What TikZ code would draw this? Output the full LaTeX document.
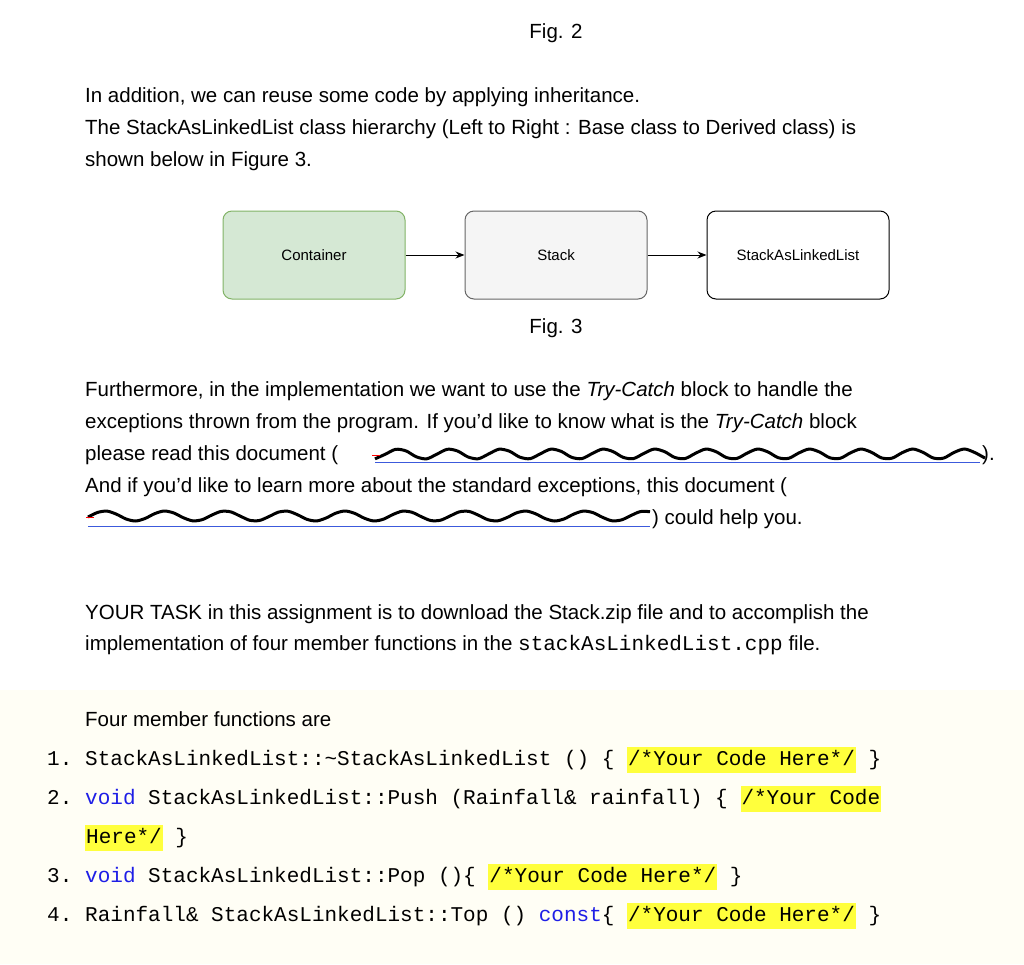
\documentclass[tikz,border=0pt]{standalone}
\usepackage{fontspec}
\setmainfont{Liberation Sans}
\setmonofont{Liberation Mono}
\usetikzlibrary{arrows.meta}
\definecolor{hl}{RGB}{255,255,60}
\definecolor{kw}{RGB}{30,30,230}
\definecolor{lnk}{RGB}{60,90,220}
\newcommand{\hlt}[1]{{\setlength{\fboxsep}{1pt}\colorbox{hl}{\strut #1}}}
\begin{document}
\begin{tikzpicture}[x=1pt,y=-1pt,
  txt/.style={anchor=base west,inner sep=0pt,font=\fontsize{20.5}{24}\selectfont},
  figcap/.style={anchor=base,inner sep=0pt,font=\fontsize{20.5}{24}\selectfont},
  code/.style={anchor=base west,inner sep=0pt,font=\fontsize{21}{24}\ttfamily},
  box/.style={draw,rounded corners=9pt,line width=1pt,minimum width=182pt,minimum height=88pt,font=\fontsize{15}{18}\selectfont},
  arr/.style={-{Stealth[length=9pt,width=7pt]},line width=1pt},
  scrib/.style={line width=3pt,black}]
\useasboundingbox (0,0) rectangle (1024,964);
\fill[white] (0,0) rectangle (1024,964);
\fill[yellow!4] (0,690) rectangle (1024,964);
\node[figcap] (f2) at (556,38) {Fig. 2};
\node[txt] (p1) at (85,102) {In addition, we can reuse some code by applying inheritance.};
\node[txt] (p2) at (85,134) {The StackAsLinkedList class hierarchy (Left to Right : Base class to Derived class) is};
\node[txt] (p3) at (85,166) {shown below in Figure 3.};
\node[box,fill={rgb,255:red,213;green,232;blue,212},draw={rgb,255:red,130;green,179;blue,102}] (c) at (314,255) {Container};
\node[box,fill={rgb,255:red,245;green,245;blue,245},draw={rgb,255:red,102;green,102;blue,102}] (s) at (556,255) {Stack};
\node[box,fill=white,draw=black] (l) at (798,255) {StackAsLinkedList};
\draw[arr] (c.east) -- (s.west);
\draw[arr] (s.east) -- (l.west);
\node[figcap] (f3) at (556,333) {Fig. 3};
\node[txt] (q1) at (85,396) {Furthermore, in the implementation we want to use the \textit{Try-Catch} block to handle the};
\node[txt] (q2) at (85,428) {exceptions thrown from the program. If you'd like to know what is the \textit{Try-Catch} block};
\node[txt] (q3) at (85,460) {please read this document (};
\node[txt] (q3e) at (982,460) {).};
\node[txt] (q4) at (85,492) {And if you'd like to learn more about the standard exceptions, this document (};
\node[txt] (q5e) at (652,524) {) could help you.};
\draw[lnk,line width=1pt] (375,462) -- (980,462);
\draw[lnk,line width=1pt] (88,526) -- (650,526);
\draw[scrib] plot[smooth,domain=375:985,samples=60] (\x,{454+5*sin(\x*7)});
\draw[scrib] plot[smooth,domain=88:650,samples=60] (\x,{516+5*sin(\x*6)});
\draw[red,line width=1pt] (372,455) -- (380,455);
\draw[red,line width=1pt] (86,517) -- (94,517);
\node[txt] (t1) at (85,619) {YOUR TASK in this assignment is to download the Stack.zip file and to accomplish the};
\node[txt] (t2) at (85,650) {implementation of four member functions in the \texttt{\fontsize{21}{24}\selectfont stackAsLinkedList.cpp} file.};
\node[txt] (fm) at (85,726) {Four member functions are};
\node[code] (n1) at (47,765) {1.};
\node[code] (c1) at (85,765) {StackAsLinkedList::\textasciitilde StackAsLinkedList () \{ \hlt{/*Your Code Here*/} \}};
\node[code] (n2) at (47,804) {2.};
\node[code] (c2) at (85,804) {\textcolor{kw}{void} StackAsLinkedList::Push (Rainfall\& rainfall) \{ \hlt{/*Your Code}};
\node[code] (c2b) at (85,843) {\hlt{Here*/} \}};
\node[code] (n3) at (47,882) {3.};
\node[code] (c3) at (85,882) {\textcolor{kw}{void} StackAsLinkedList::Pop ()\{ \hlt{/*Your Code Here*/} \}};
\node[code] (n4) at (47,921) {4.};
\node[code] (c4) at (85,921) {Rainfall\& StackAsLinkedList::Top () \textcolor{kw}{const}\{ \hlt{/*Your Code Here*/} \}};
\end{tikzpicture}
\end{document}
